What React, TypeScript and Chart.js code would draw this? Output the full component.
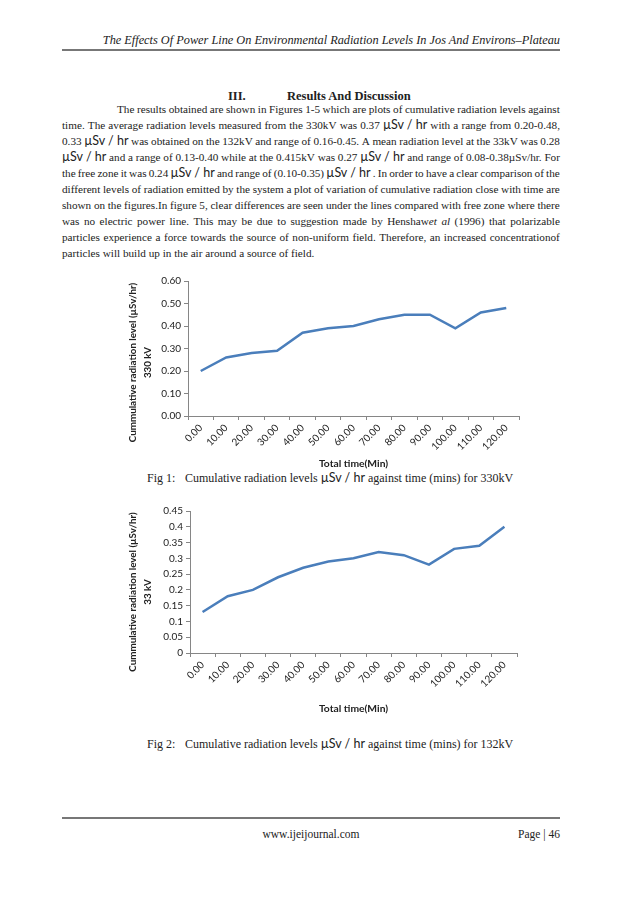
import React, { useEffect, useRef } from 'react';
import { Chart, registerables } from 'chart.js';

Chart.register(...registerables);

// ---------- data ----------
const TIME_LABELS = ['0.00', '10.00', '20.00', '30.00', '40.00', '50.00', '60.00', '70.00', '80.00', '90.00', '100.00', '110.00', '120.00'];
const RAD_330KV = [0.2, 0.26, 0.28, 0.29, 0.37, 0.39, 0.4, 0.43, 0.45, 0.45, 0.39, 0.46, 0.48];
const RAD_33KV = [0.13, 0.18, 0.2, 0.24, 0.27, 0.29, 0.3, 0.32, 0.31, 0.28, 0.33, 0.34, 0.4];
const Y_TICKS_330 = ['0.00', '0.10', '0.20', '0.30', '0.40', '0.50', '0.60'];
const Y_TICKS_33 = ['0', '0.05', '0.1', '0.15', '0.2', '0.25', '0.3', '0.35', '0.4', '0.45'];
const Y_TITLE_330 = ['Cummulative radiation level (µSv/hr)', '330 kV'];
const Y_TITLE_33 = ['Cummulative radiation level (µSv/hr)', '33 kV'];
const X_TITLE = 'Total time(Min)';

const PARA_LINES = [
  'The results obtained are shown in Figures 1-5 which are plots of cumulative radiation levels against',
  'time. The average radiation levels measured from the 330kV was 0.37 § with a range from 0.20-0.48,',
  '0.33 § was obtained on the 132kV and range of 0.16-0.45. A mean radiation level at the 33kV was 0.28',
  '§ and a range of 0.13-0.40 while at the 0.415kV was 0.27 § and range of 0.08-0.38µSv/hr. For',
  'the free zone it was 0.24 § and range of (0.10-0.35) § . In order to have a clear comparison of the',
  'different levels of radiation emitted by the system a plot of variation of cumulative radiation close with time are',
  'shown on the figures.In figure 5, clear differences are seen under the lines compared with free zone where there',
  'was no electric power line. This may be due to suggestion made by Henshaw*et al (1996) that polarizable',
  'particles experience a force towards the source of non-uniform field. Therefore, an increased concentrationof',
  'particles will build up in the air around a source of field.',
];

const SERIF = '"Liberation Serif", "Times New Roman", serif';
const SANS = 'Lato, "Noto Sans", sans-serif';
const AXIS_COLOR = '#868686';
const LINE_COLOR = '#4a7ebb';

const Unit = () => (
  <span style={{ fontFamily: SANS, fontSize: 12.5 }}>µSv / hr</span>
);

function renderWord(w: string, i: number) {
  if (w === '§') return <Unit key={i} />;
  if (w.startsWith('Henshaw*')) return <span key={i}>Henshaw<i>et</i></span>;
  if (w === 'al') return <i key={i}>al</i>;
  return <span key={i}>{w}</span>;
}

type ChartProps = {
  values: number[];
  yTicks: string[];
  yStep: number;
  yMax: number;
  yTitle: string[];
  yTitleShift: number;
  left: number;
  top: number;
  width: number;
  height: number;
  yAxisWidth: number;
  xAxisHeight: number;
  padTop: number;
  padRight: number;
};

function LineChart(p: ChartProps) {
  const ref = useRef<HTMLCanvasElement>(null);
  useEffect(() => {
    const tickFont = { family: 'Lato', size: 10 };
    const titleFont = { family: 'Lato', size: 9.8, weight: 'bold' as const, lineHeight: 1.55 };
    const chart = new Chart(ref.current!, {
      type: 'line',
      data: {
        labels: TIME_LABELS,
        datasets: [
          {
            data: p.values,
            borderColor: LINE_COLOR,
            borderWidth: 2.5,
            pointRadius: 0,
            tension: 0,
            fill: false,
          },
        ],
      },
      options: {
        responsive: false,
        animation: false,
        devicePixelRatio: 1,
        layout: { padding: { top: p.padTop, right: p.padRight, left: 0, bottom: 0 } },
        plugins: { legend: { display: false }, tooltip: { enabled: false } },
        scales: {
          x: {
            offset: true,
            grid: { display: true, drawOnChartArea: false, drawTicks: true, tickLength: 4, offset: true, color: AXIS_COLOR },
            border: { color: AXIS_COLOR, width: 1 },
            ticks: { maxRotation: 45, minRotation: 45, autoSkip: false, font: tickFont, color: '#222', padding: 2 },
            title: { display: true, text: X_TITLE, font: { family: 'Lato', size: 10.3, weight: 'bold' }, color: '#222', padding: 0 },
            afterFit: (s: any) => {
              s.height = p.xAxisHeight;
            },
          },
          y: {
            min: 0,
            max: p.yMax,
            grid: { display: true, drawOnChartArea: false, drawTicks: true, tickLength: 4, color: AXIS_COLOR },
            border: { color: AXIS_COLOR, width: 1 },
            ticks: {
              stepSize: p.yStep,
              font: tickFont,
              color: '#222',
              padding: 3,
              callback: (v: any) => p.yTicks[Math.round(Number(v) / p.yStep)],
            },
            title: { display: true, text: p.yTitle, font: titleFont, color: '#222', padding: { top: 5, bottom: 0 } },
            afterFit: (s: any) => {
              s.width = p.yAxisWidth;
              if (!s.__shifted) {
                // the original chart centres this title a little below the plot's middle
                const proto = Object.getPrototypeOf(s);
                s.drawTitle = function () {
                  this.ctx.save();
                  this.ctx.translate(0, p.yTitleShift);
                  proto.drawTitle.call(this);
                  this.ctx.restore();
                };
                s.__shifted = true;
              }
            },
          },
        },
      },
    } as any);
    return () => chart.destroy();
  }, []);
  return (
    <canvas
      ref={ref}
      width={p.width}
      height={p.height}
      style={{ position: 'absolute', left: p.left, top: p.top, width: p.width, height: p.height }}
    />
  );
}

const abs = (left: number, top: number, extra: React.CSSProperties = {}): React.CSSProperties => ({
  position: 'absolute',
  left,
  top,
  whiteSpace: 'nowrap',
  ...extra,
});

export default function App() {
  const lineTops = [101, 117, 133, 149, 165, 181, 197, 213, 229, 245];
  return (
    <div
      style={{
        position: 'absolute',
        left: 0,
        top: 0,
        width: 638,
        height: 902,
        background: '#fff',
        fontFamily: SERIF,
        color: '#222',
        overflow: 'hidden',
      }}
    >
      {/* header */}
      <div style={abs(62, 32, { width: 498, textAlign: 'right', fontStyle: 'italic', fontSize: 12.3, lineHeight: '16px' })}>
        The Effects Of Power Line On Environmental Radiation Levels In Jos And Environs–Plateau
      </div>
      <div style={abs(62, 49, { width: 498, height: 2, background: '#777' })} />

      {/* section title */}
      <div style={abs(228, 88, { fontWeight: 'bold', fontSize: 12.5, lineHeight: '16px' })}>III.</div>
      <div style={abs(287, 88, { fontWeight: 'bold', fontSize: 12.5, lineHeight: '16px' })}>Results And Discussion</div>

      {/* paragraph */}
      {PARA_LINES.map((ln, idx) => {
        const last = idx === PARA_LINES.length - 1;
        const left = idx === 0 ? 117 : 62;
        const words = ln.split(' ');
        return (
          <div
            key={idx}
            style={abs(left, lineTops[idx], {
              width: 560 - left,
              display: 'flex',
              justifyContent: last ? 'flex-start' : 'space-between',
              gap: last ? 2.8 : 0,
              fontSize: 11.2,
              lineHeight: '16px',
              alignItems: 'baseline',
            })}
          >
            {words.map((w, i) => renderWord(w, i))}
          </div>
        );
      })}

      {/* chart 1 */}
      <LineChart
        values={RAD_330KV}
        yTicks={Y_TICKS_330}
        yStep={0.1}
        yMax={0.6}
        yTitle={Y_TITLE_330}
        yTitleShift={14}
        left={120}
        top={268}
        width={410}
        height={202}
        yAxisWidth={68}
        xAxisHeight={54}
        padTop={13}
        padRight={11}
      />
      <div style={abs(147, 470, { fontSize: 12, lineHeight: '16px' })}>Fig 1:</div>
      <div style={abs(185, 470, { fontSize: 12, lineHeight: '16px' })}>
        Cumulative radiation levels <Unit /> against time (mins) for 330kV
      </div>

      {/* chart 2 */}
      <LineChart
        values={RAD_33KV}
        yTicks={Y_TICKS_33}
        yStep={0.05}
        yMax={0.45}
        yTitle={Y_TITLE_33}
        yTitleShift={10}
        left={120}
        top={500}
        width={410}
        height={215}
        yAxisWidth={70}
        xAxisHeight={62}
        padTop={11}
        padRight={13}
      />
      <div style={abs(147, 736, { fontSize: 12, lineHeight: '16px' })}>Fig 2:</div>
      <div style={abs(185, 736, { fontSize: 12, lineHeight: '16px' })}>
        Cumulative radiation levels <Unit /> against time (mins) for 132kV
      </div>

      {/* footer */}
      <div style={abs(62, 817, { width: 498, height: 2, background: '#777' })} />
      <div style={abs(62, 826, { width: 498, textAlign: 'center', fontSize: 11.5, lineHeight: '16px' })}>
        www.ijeijournal.com
      </div>
      <div style={abs(460, 826, { width: 100, textAlign: 'right', fontSize: 11.5, lineHeight: '16px' })}>Page | 46</div>
    </div>
  );
}
